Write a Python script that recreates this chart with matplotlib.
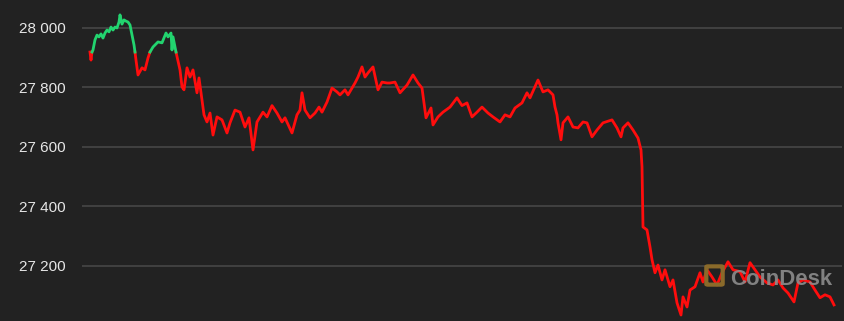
#!/usr/bin/env python3
import numpy as np
import matplotlib
matplotlib.use("Agg")
import matplotlib.pyplot as plt
from matplotlib.patches import FancyBboxPatch

# time step index (roughly 2 min per step) and BTC price
steps = [0, 1, 2, 3, 5, 7, 9, 11, 13, 15, 17, 19, 21, 23, 25, 27, 29, 30, 32, 34,
         36, 38, 40, 42, 44, 45, 46, 48, 52, 55, 58, 60, 63, 68, 72, 76, 78, 81, 82, 83,
         86, 90, 92, 94, 97, 100, 103, 107, 109, 114, 117, 120, 123, 127, 132, 137, 140, 145, 150, 155,
         159, 163, 167, 173, 177, 182, 187, 192, 195, 202, 207, 210, 212, 215, 220, 225, 229, 232, 237, 242,
         247, 250, 255, 258, 265, 268, 272, 275, 278, 283, 288, 292, 297, 300, 305, 310, 317, 323, 328, 332,
         336, 341, 343, 348, 353, 360, 367, 372, 377, 382, 387, 392, 398, 403, 410, 415, 420, 425, 432, 437,
         440, 445, 448, 453, 458, 463, 465, 467, 468, 471, 473, 478, 483, 488, 493, 497, 502, 507, 513, 522,
         527, 531, 533, 538, 543, 548, 551, 552, 553, 557, 560, 562, 565, 568, 572, 575, 580, 583, 587, 591,
         593, 597, 600, 605, 610, 613, 617, 622, 627, 632, 638, 643, 650, 655, 660, 665, 670, 677, 683, 688,
         693, 698, 704, 708, 713, 720, 725, 730, 735, 740, 744]
price = [27918, 27891, 27918, 27925, 27959, 27975, 27969, 27979, 27965, 27982, 27992, 27986, 28002, 27992, 28002, 27999, 28019, 28043, 28012, 28026,
         28022, 28019, 28009, 27975, 27942, 27918, 27891, 27841, 27865, 27858, 27898, 27918, 27935, 27952, 27949, 27982, 27969, 27982, 27925, 27969,
         27918, 27858, 27801, 27791, 27865, 27834, 27858, 27781, 27831, 27707, 27683, 27713, 27639, 27700, 27690, 27646, 27680, 27723, 27716, 27666,
         27697, 27589, 27683, 27716, 27700, 27738, 27713, 27683, 27697, 27646, 27707, 27723, 27781, 27723, 27697, 27713, 27733, 27716, 27750, 27797,
         27784, 27774, 27791, 27774, 27814, 27834, 27868, 27834, 27848, 27868, 27791, 27817, 27814, 27814, 27817, 27781, 27807, 27841, 27814, 27797,
         27697, 27730, 27673, 27700, 27716, 27733, 27764, 27738, 27747, 27700, 27716, 27733, 27713, 27700, 27683, 27707, 27700, 27730, 27747, 27781,
         27764, 27801, 27824, 27784, 27791, 27774, 27733, 27707, 27680, 27623, 27680, 27700, 27666, 27663, 27683, 27680, 27633, 27656, 27680, 27690,
         27663, 27633, 27663, 27680, 27656, 27629, 27589, 27532, 27330, 27320, 27263, 27220, 27176, 27202, 27152, 27186, 27129, 27152, 27075, 27034,
         27095, 27061, 27118, 27129, 27176, 27145, 27186, 27162, 27135, 27176, 27213, 27186, 27180, 27145, 27210, 27186, 27162, 27142, 27135, 27152,
         27125, 27108, 27078, 27142, 27152, 27145, 27118, 27092, 27102, 27095, 27068]

yticks = [27000, 27200, 27400, 27600, 27800, 28000]
ytick_labels = ["27 000", "27 200", "27 400", "27 600", "27 800", "28 000"]

BG = "#222222"
RED = "#ff0d0d"
GREEN = "#22d46f"

# split line into above/below the opening price, adding crossing points
x = np.array(steps, dtype=float)
y = np.array(price, dtype=float)
base = y[0]
xs, ys = [x[0]], [y[0]]
for i in range(1, len(x)):
    a, b = y[i - 1] - base, y[i] - base
    if a * b < 0:
        f = a / (a - b)
        xs.append(x[i - 1] + f * (x[i] - x[i - 1]))
        ys.append(base)
    xs.append(x[i])
    ys.append(y[i])
xs, ys = np.array(xs), np.array(ys)
up = np.ma.masked_where(ys < base, ys)
down = np.ma.masked_where(ys > base, ys)

fig = plt.figure(figsize=(8.45, 3.21), dpi=100, facecolor=BG)
ax = fig.add_axes([82 / 845, -19 / 321, 760 / 845, 340 / 321])
ax.set_facecolor(BG)

ax.plot(xs, down, color=RED, lw=2.0, zorder=3, solid_joinstyle="round")
ax.plot(xs, up, color=GREEN, lw=2.0, zorder=3, solid_joinstyle="round")

ax.set_xlim(-8, 752)
ax.set_ylim(26950, 28093)
ax.set_yticks(yticks)
ax.set_yticklabels(ytick_labels)
ax.set_xticks([])
ax.tick_params(axis="y", length=0, pad=11.5, labelsize=11, labelcolor="#e6e6e6")
for lbl in ax.get_yticklabels():
    lbl.set_fontfamily("Liberation Sans")
ax.grid(axis="y", color="#444444", lw=1.3)
for s in ax.spines.values():
    s.set_visible(False)

# CoinDesk watermark
fig.text(730 / 845, 1 - 285 / 321, "CoinDesk", fontsize=16, fontweight="bold",
         color="#8c8c8c", alpha=0.9, family="Liberation Sans", zorder=2)
logo = FancyBboxPatch((708 / 845, 1 - 284 / 321), 13 / 845, 17 / 321,
                      boxstyle="round,pad=0.002", transform=fig.transFigure,
                      fill=False, edgecolor="#8a6a2a", lw=3, zorder=2)
fig.patches.append(logo)

fig.savefig("out.png", dpi=100, facecolor=BG)
